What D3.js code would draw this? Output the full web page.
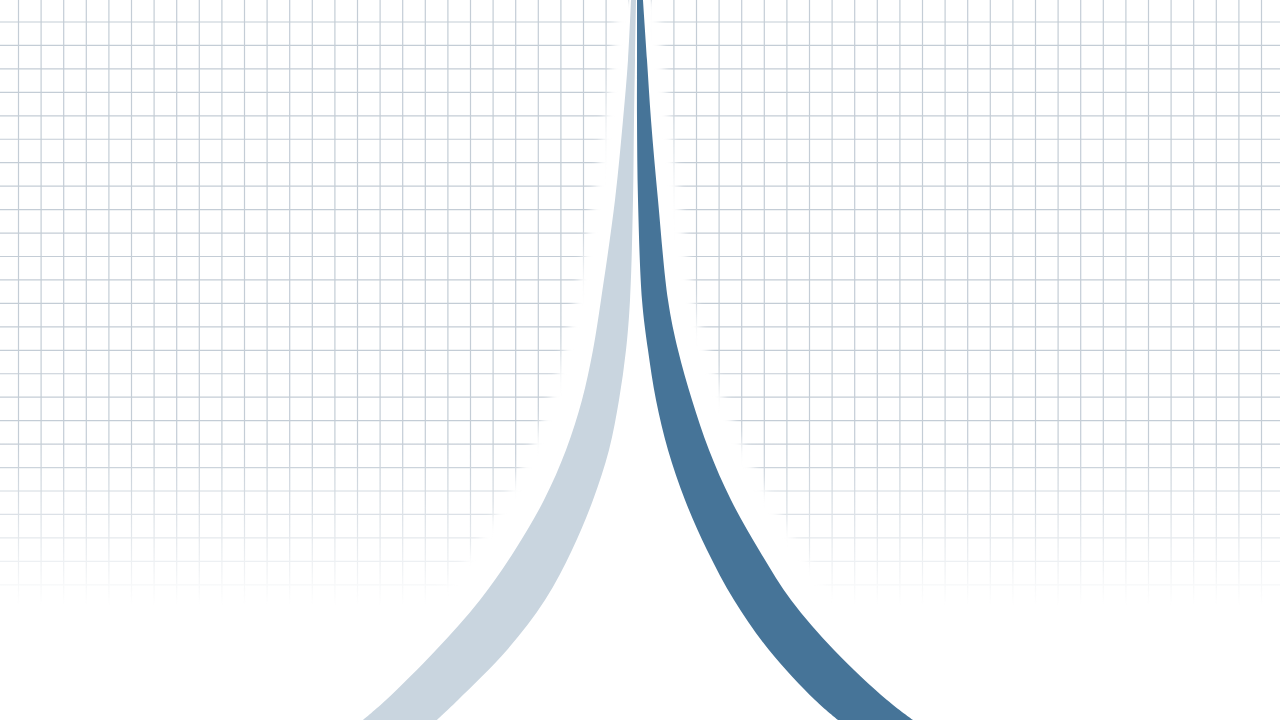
<!DOCTYPE html>
<html>
<head>
<meta charset="utf-8">
<script src="https://cdn.jsdelivr.net/npm/d3@7"></script>
<style>
  html, body { margin: 0; padding: 0; background: #ffffff; overflow: hidden; }
  svg { display: block; }
</style>
</head>
<body>
<svg id="chart" width="1280" height="720"></svg>
<script>
// ---- data ----
const levels      = [0, 60, 120, 200, 300, 350, 400, 450, 500, 550, 600, 650, 700, 720];
const lightLeft   = [631, 628, 623, 615, 601, 593, 582, 566, 544, 515, 480, 436, 386, 363];
const lightRight  = [636, 635, 634, 633, 630, 626, 619, 609, 593, 572, 545, 507, 458, 437];
const darkLeft    = [637, 637, 637, 638, 642, 648, 656, 668, 685, 707, 734, 769, 815, 838];
const darkRight   = [643, 647, 651, 658, 668, 678, 692, 709, 731, 759, 791, 834, 887, 913];
const gridCols    = d3.range(0, 56);   // vertical grid line indices
const gridRows    = d3.range(0, 31);   // horizontal grid line indices

// ---- layout ----
const W = 1280, H = 720;
const svg = d3.select("#chart");

const x = d3.scaleLinear().domain([0, 1280]).range([0, W]);
const y = d3.scaleLinear().domain([0, 720]).range([0, H]);
const gx = d3.scaleLinear().domain([0, 55]).range([18.5, 18.5 + 55 * 22.6]);
const gy = d3.scaleLinear().domain([0, 30]).range([22, 22 + 30 * 23.45]);
const halo = d3.scaleLinear().domain([0, 300, 500, 720]).range([14, 26, 40, 50]).clamp(true);

const light = levels.map((v, i) => ({ y: v, l: lightLeft[i], r: lightRight[i] }));
const dark  = levels.map((v, i) => ({ y: v, l: darkLeft[i],  r: darkRight[i] }));
const hole  = levels.map((v, i) => ({ y: v, l: lightLeft[i] - halo(v), r: darkRight[i] + halo(v) }));

const area = d3.area()
  .y(d => y(d.y))
  .x0(d => x(d.l))
  .x1(d => x(d.r))
  .curve(d3.curveCatmullRom.alpha(0.5));

const defs = svg.append("defs");

const grad = defs.append("linearGradient")
  .attr("id", "fade")
  .attr("gradientUnits", "userSpaceOnUse")
  .attr("x1", 0).attr("y1", 0).attr("x2", 0).attr("y2", H);
[[0, 1], [440, 1], [490, 0.75], [530, 0.5], [570, 0.25], [605, 0]].forEach(([o, a]) => {
  grad.append("stop").attr("offset", o / H).attr("stop-color", "#fff").attr("stop-opacity", a);
});

defs.append("filter").attr("id", "soft")
  .attr("x", -0.2).attr("y", -0.2).attr("width", 1.4).attr("height", 1.4)
  .append("feGaussianBlur").attr("stdDeviation", 4);

const mask = defs.append("mask").attr("id", "gridMask")
  .attr("maskUnits", "userSpaceOnUse")
  .attr("x", 0).attr("y", 0).attr("width", W).attr("height", H);
mask.append("rect").attr("width", W).attr("height", H).attr("fill", "url(#fade)");
mask.append("path").datum(hole).attr("d", area)
  .attr("fill", "#000").attr("filter", "url(#soft)");

// ---- grid ----
const grid = svg.append("g").attr("mask", "url(#gridMask)")
  .attr("stroke", "#c4cdd6").attr("stroke-width", 1.2).attr("fill", "none");
grid.selectAll("line.v").data(gridCols).join("line").attr("class", "v")
  .attr("x1", d => gx(d)).attr("x2", d => gx(d)).attr("y1", 0).attr("y2", H);
grid.selectAll("line.h").data(gridRows).join("line").attr("class", "h")
  .attr("y1", d => gy(d)).attr("y2", d => gy(d)).attr("x1", 0).attr("x2", W);

// ---- bands ----
svg.append("path").datum(light).attr("d", area).attr("fill", "#c9d5df");
svg.append("path").datum(dark).attr("d", area).attr("fill", "#467498");
</script>
</body>
</html>
